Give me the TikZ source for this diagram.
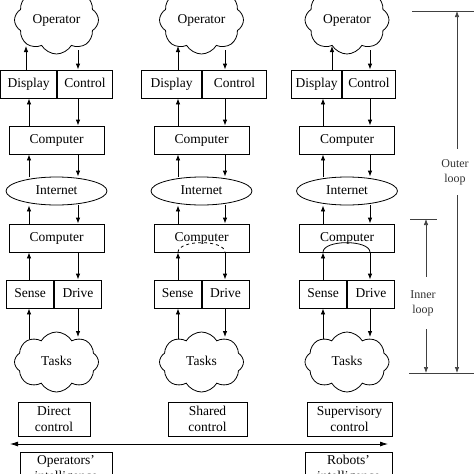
\documentclass[tikz,border=0pt]{standalone}
\usepackage{fontspec}
\setmainfont{Liberation Serif}
\usetikzlibrary{arrows.meta,shapes.geometric,shapes.symbols}

\begin{document}
\begin{tikzpicture}[x=1pt, y=-1pt, line width=0.8pt,
	every node/.style={font=\fontsize{13.5}{16}\selectfont},
	>={Latex[length=6pt, width=4.5pt]},
	box/.style={draw, rectangle, minimum height=28pt, inner sep=1pt, text height=9.5pt, text depth=2.5pt},
	cloudy/.style={draw, cloud, cloud puffs=8, cloud puff arc=120, cloud ignores aspect, minimum width=84pt, minimum height=60pt, inner sep=0pt, text height=9.5pt, text depth=2.5pt},
	net/.style={draw, ellipse, minimum width=101pt, minimum height=28pt, inner sep=0pt, text height=9.5pt, text depth=2.5pt},
	modebox/.style={draw, align=center, minimum height=34pt, inner sep=1pt},
	loopline/.style={black!75, line width=0.7pt},
	looptext/.style={align=center, font=\fontsize{12}{15}\selectfont, text=black!80}]
	\useasboundingbox (0,0) rectangle (474,474);
	\clip (0,0) rectangle (474,474);
	\foreach \c/\x/\d/\dl/\dr/\s/\u/\w/\ou/\bx/\bw/\m in {1/56.5/57/56/55/54/29/78/26/54/72/Direct, 2/201.5/202/60/64/201.5/178/225/178/207.5/79/Shared, 3/347/342/50/53/347/323/370/332/349.5/85/Supervisory} {
		\node[cloudy, minimum height=68pt] (op\c) at (\x,20) {Operator};
		\node[box, minimum width=\dl pt, anchor=east] (disp\c) at (\d,84) {Display};
		\node[box, minimum width=\dr pt, anchor=west] (ctrl\c) at (\d,84) {Control};
		\draw[->] (disp\c.north -| \ou,0) -- (\ou,46);
		\draw[->] (\w,50) -- (ctrl\c.north -| \w,0);
		\node[box, minimum width=95pt] (ca\c) at (\x,140) {Computer};
		\draw[->] (ca\c.north -| \u,0) -- (disp\c.south -| \u,0);
		\draw[->] (ctrl\c.south -| \w,0) -- (ca\c.north -| \w,0);
		\node[net] (net\c) at (\x,191) {Internet};
		\draw[->] (net\c.north -| \u,0) -- (ca\c.south -| \u,0);
		\draw[->] (ca\c.south -| \w,0) -- (net\c.north -| \w,0);
		\node[box, minimum width=95pt] (cb\c) at (\x,238) {Computer};
		\draw[->] (cb\c.north -| \u,0) -- (net\c.south -| \u,0);
		\draw[->] (net\c.south -| \w,0) -- (cb\c.north -| \w,0);
		\node[box, minimum width=47pt, anchor=east] (sense\c) at (\s,294) {Sense};
		\node[box, minimum width=47pt, anchor=west] (drive\c) at (\s,294) {Drive};
		\draw[->] (sense\c.north -| \u,0) -- (cb\c.south -| \u,0);
		\draw[->] (cb\c.south -| \w,0) -- (drive\c.north -| \w,0);
		\node[cloudy] (task\c) at (\x,362) {Tasks};
		\draw[->] (\u,339) -- (sense\c.south -| \u,0);
		\draw[->] (drive\c.south -| \w,0) -- (\w,337);
		\node[modebox, minimum width=\bw pt] (mode\c) at (\bx,419) {\m\\control};
	}
	\draw[dashed] (cb2.south -| 178,0) .. controls +(0,-13) and +(0,-13) .. (cb2.south -| 225,0);
	\draw (cb3.south -| 323,0) .. controls +(0,-13) and +(0,-13) .. (cb3.south -| 370,0);
	\draw[loopline] (412,11) -- (480,11);
	\draw[loopline] (409,373) -- (480,373);
	\draw[loopline] (410,219) -- (437,219);
	\coordinate (otop) at (457,11);
	\coordinate (obot) at (457,373);
	\coordinate (itop) at (426,219);
	\coordinate (ibot) at (426,373);
	\node[looptext, inner sep=10pt] (outer) at (455,172) {Outer\\loop};
	\node[looptext, inner sep=13pt] (inner) at (423,303) {Inner\\loop};
	\draw[loopline, ->] (outer.north -| otop) -- (otop);
	\draw[loopline, ->] (outer.south -| obot) -- (obot);
	\draw[loopline, ->] (inner.north -| itop) -- (itop);
	\draw[loopline, ->] (inner.south -| ibot) -- (ibot);
	\coordinate (spanl) at (10,444);
	\coordinate (spanr) at (388,444);
	\draw[<->, >={Latex[length=8pt, width=5pt]}] (spanl) -- (spanr);
	\node[modebox, anchor=north, minimum width=92pt] (opint) at (66,452) {Operators’\\intelligence};
	\node[modebox, anchor=north, minimum width=87pt] (robint) at (348.5,452) {Robots’\\intelligence};
\end{tikzpicture}
\end{document}
